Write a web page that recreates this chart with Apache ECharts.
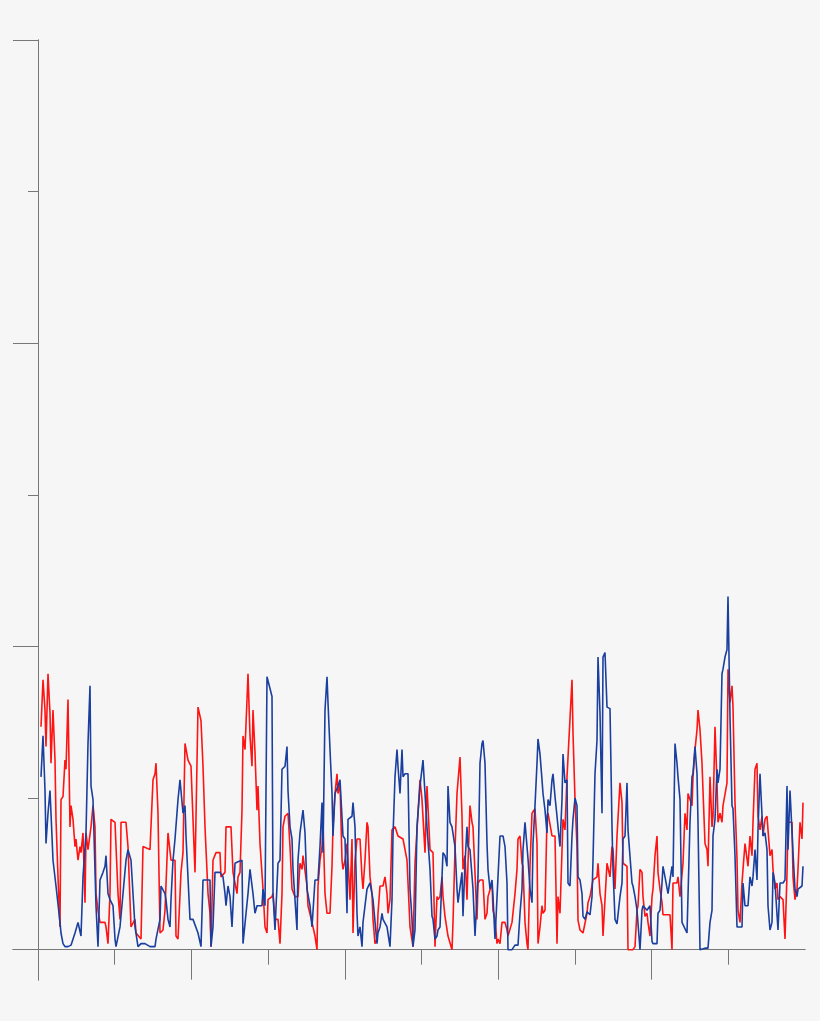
<!DOCTYPE html>
<html><head><meta charset="utf-8">
<script src="https://cdn.jsdelivr.net/npm/echarts@6/dist/echarts.min.js"></script>
<style>html,body{margin:0;padding:0;background:#f6f6f6}#c{width:820px;height:1021px}</style>
</head><body><div id="c"></div>
<script>
const redSeries = [[3,14.7],[5,17.8],[7,15.8],[8,13.4],[10,18.2],[12,15.6],[13,12.3],[15,15.8],[17,12.5],[18,8.6],[20,4.8],[22,1.5],[23,9.9],[25,10.1],[27,12.5],[28,11.9],[30,16.5],[32,8.1],[33,9.5],[35,8.6],[37,6.8],[38,7.3],[40,5.9],[42,6.8],[43,6.4],[45,7.7],[47,3.1],[48,7.7],[50,6.6],[52,6.6],[53,8.1],[55,9.5],[57,8.1],[58,3.7],[60,2.6],[62,1.8],[67,1.8],[68,1.5],[70,0.4],[72,3.7],[73,8.6],[77,8.4],[80,3.7],[82,2.0],[83,8.4],[88,8.4],[90,6.8],[93,1.5],[97,2.0],[98,1.1],[103,0.7],[105,6.8],[112,6.6],[113,6.6],[115,11.2],[117,11.6],[118,12.3],[120,9.0],[122,1.1],[125,1.3],[127,2.6],[130,7.7],[133,5.9],[137,5.9],[138,0.9],[140,0.7],[143,5.1],[145,6.4],[147,13.6],[150,12.5],[153,12.1],[157,5.1],[160,16.0],[163,15.1],[165,12.1],[167,8.1],[170,3.7],[172,2.4],[173,0.2],[175,5.9],[178,6.4],[182,6.4],[183,4.8],[187,5.1],[188,8.1],[193,8.1],[195,5.1],[199,3.7],[200,4.8],[202,5.1],[204,9.2],[205,14.1],[207,13.2],[209,16.5],[210,18.2],[212,14.1],[214,12.1],[215,15.8],[217,13.0],[219,9.2],[220,10.8],[222,7.0],[224,7.0],[225,4.0],[227,1.5],[229,1.1],[230,3.3],[234,3.5],[235,3.7],[237,2.0],[240,2.0],[242,0.4],[244,3.7],[245,8.1],[247,8.8],[250,9.0],[252,6.8],[254,4.0],[257,3.5],[260,3.5],[262,5.7],[264,5.3],[265,6.2],[267,6.2],[269,4.2],[270,2.9],[274,1.8],[277,0.9],[279,0],[280,4.2],[282,5.9],[284,6.8],[285,8.4],[287,3.7],[289,2.4],[292,2.4],[294,5.5],[295,8.1],[297,10.3],[299,11.6],[300,10.3],[302,11.0],[304,5.9],[305,5.3],[307,5.9],[309,7.0],[310,5.9],[312,3.3],[314,7.3],[315,1.1],[317,5.9],[319,7.3],[322,7.3],[324,4.8],[325,4.0],[327,5.9],[329,8.4],[330,8.1],[332,4.8],[334,3.7],[335,2.0],[337,0.4],[339,0.7],[340,2.4],[342,4.2],[345,4.2],[347,4.8],[349,3.7],[350,2.4],[352,3.3],[354,7.9],[355,7.9],[357,8.1],[359,7.7],[360,7.5],[365,7.3],[369,5.9],[372,1.5],[374,1.5],[375,0.2],[377,5.7],[380,9.0],[382,11.2],[384,9.9],[387,6.4],[389,10.8],[392,6.6],[395,6.4],[397,0.2],[399,3.5],[400,3.3],[402,3.5],[404,4.8],[405,3.5],[407,2.2],[410,0.9],[412,0.9],[414,0],[415,1.8],[417,6.6],[419,10.3],[422,12.7],[424,8.8],[425,5.3],[427,6.2],[429,3.3],[430,5.7],[432,9.5],[434,8.4],[435,8.1],[439,2.0],[440,4.4],[442,4.6],[445,4.6],[447,2.0],[449,2.4],[450,3.5],[452,3.5],[454,4.4],[455,2.6],[457,2.0],[459,0.4],[460,0.7],[462,0.4],[464,1.8],[467,1.8],[469,1.3],[470,0.9],[474,1.8],[477,3.7],[479,5.3],[480,7.3],[482,7.5],[484,5.7],[485,5.5],[487,1.8],[489,0.4],[490,0],[492,5.5],[494,9.0],[497,9.3],[499,7.0],[500,0.4],[502,1.5],[504,2.9],[505,2.4],[507,2.6],[509,8.8],[510,9.0],[514,7.5],[517,7.5],[519,0.4],[520,3.5],[522,2.4],[525,8.6],[527,7.9],[529,11.4],[530,11.4],[534,17.8],[535,14.3],[537,9.9],[539,6.8],[540,1.95],[542,1.3],[545,1.1],[547,1.1],[549,2.4],[550,3.1],[552,3.5],[555,4.6],[559,4.8],[560,5.7],[562,3.7],[564,2.9],[565,0.9],[569,5.7],[570,5.7],[572,4.8],[574,6.8],[575,6.6],[577,4.0],[579,7.5],[582,11.0],[584,9.7],[585,5.7],[589,5.5],[590,0],[595,0],[597,0.2],[599,2.6],[600,2.9],[602,5.3],[604,5.1],[605,3.5],[607,2.2],[609,2.4],[610,1.8],[612,0.9],[614,3.5],[615,4.0],[617,6.2],[619,7.5],[620,5.1],[622,4.0],[624,3.1],[625,2.3],[632,2.3],[634,0],[635,4.4],[639,4.4],[640,4.8],[642,3.5],[644,3.5],[645,5.7],[647,9.0],[649,7.9],[650,10.3],[652,10.3],[654,9.5],[655,11.4],[657,13.2],[659,14.5],[660,15.8],[662,14.5],[664,12.3],[665,10.5],[667,7.0],[669,6.6],[670,5.5],[672,11.4],[674,8.1],[675,8.8],[677,14.7],[679,11.0],[680,8.4],[682,9.0],[684,8.4],[685,9.5],[687,9.5],[689,11.0],[690,18.5],[692,16.3],[694,17.4],[695,16.0],[697,9.7],[699,6.0],[700,2.6],[702,1.8],[704,4.4],[705,5.3],[707,7.0],[709,7.0],[710,5.5],[712,7.5],[714,6.2],[715,8.4],[717,11.9],[719,12.3],[720,8.8],[722,7.9],[724,8.8],[725,7.5],[727,8.6],[729,8.8],[730,7.9],[732,6.2],[734,6.6],[735,5.3],[737,4.0],[739,4.4],[740,3.3],[742,3.5],[745,3.3],[747,0.7],[749,5.0],[750,8.4],[754,8.4],[755,4.8],[757,3.3],[759,4.0],[760,5.3],[762,8.4],[764,7.3],[765,9.7]];
const blueSeries = [[3,11.4],[5,14.1],[7,10.5],[8,7.0],[10,9.0],[12,10.5],[13,9.0],[15,5.9],[17,5.9],[18,4.2],[22,1.8],[23,1.1],[25,0.4],[27,0.2],[30,0.2],[33,0.3],[37,1.1],[40,1.8],[42,1.8],[43,0.9],[45,4.8],[48,7.7],[50,13.6],[52,17.4],[53,10.8],[55,9.9],[57,9.9],[58,2.9],[60,0.2],[62,4.6],[65,5.1],[67,5.5],[68,6.2],[70,3.7],[72,3.3],[75,2.9],[77,0.7],[78,0.2],[82,1.5],[85,3.7],[88,5.9],[90,6.6],[93,5.9],[95,5.9],[97,1.5],[100,0.2],[103,0.4],[107,0.4],[108,0.5],[112,0.2],[117,0.2],[118,0.7],[122,2.0],[123,4.2],[127,3.7],[128,3.3],[130,2.0],[132,1.5],[133,3.3],[135,5.9],[137,7.3],[138,7.3],[140,9.9],[142,11.2],[145,9.0],[147,9.5],[148,7.5],[152,2.0],[155,2.0],[160,1.1],[163,0.2],[165,4.6],[172,4.6],[173,0.2],[175,1.5],[177,5.1],[182,5.1],[185,4.8],[187,3.7],[188,2.9],[190,4.2],[192,3.5],[194,1.5],[195,1.5],[197,5.7],[200,5.8],[202,5.9],[204,5.9],[205,0.4],[207,0.4],[210,3.7],[212,5.3],[214,5.3],[215,3.7],[217,2.4],[219,2.9],[224,2.9],[225,4.0],[227,2.9],[229,18.0],[231,18.0],[234,16.7],[235,3.7],[237,1.3],[239,1.3],[240,5.7],[242,5.9],[244,11.9],[247,12.1],[249,13.4],[250,10.5],[252,8.1],[254,7.3],[255,5.3],[257,3.3],[259,1.3],[260,5.9],[262,7.7],[265,9.2],[267,7.7],[269,4.0],[272,2.9],[274,1.5],[277,4.6],[280,4.6],[282,6.8],[284,9.7],[285,6.4],[287,15.8],[289,18.0],[290,16.3],[292,13.2],[294,10.3],[295,7.5],[297,10.3],[300,10.8],[302,11.2],[305,7.5],[307,7.3],[309,2.4],[310,8.6],[314,8.8],[315,9.7],[317,8.1],[319,2.4],[320,0.9],[322,1.5],[324,0.2],[325,1.8],[329,4.0],[332,4.4],[335,3.3],[339,0.4],[340,1.1],[342,1.5],[344,2.4],[345,2.0],[349,1.5],[352,0.2],[354,3.3],[355,7.5],[357,11.4],[359,13.2],[360,12.1],[362,10.3],[364,13.2],[365,11.4],[367,11.6],[370,11.6],[372,4.0],[374,2.0],[375,0.2],[377,1.3],[379,8.1],[382,10.8],[385,12.5],[389,8.1],[392,5.3],[394,2.2],[395,2.0],[397,0.7],[399,0.9],[400,1.3],[402,1.5],[404,4.8],[405,6.4],[407,6.2],[409,5.5],[410,10.8],[412,8.4],[414,8.1],[415,8.1],[417,6.8],[419,4.0],[420,3.1],[422,3.1],[424,5.1],[425,2.2],[427,5.7],[429,8.1],[430,6.8],[432,6.6],[434,6.6],[435,4.0],[437,0.9],[439,0.9],[440,4.8],[442,12.3],[444,13.6],[445,13.8],[447,12.3],[449,7.0],[450,5.3],[452,4.0],[454,4.6],[455,3.5],[457,0.7],[459,0.7],[460,4.8],[462,7.5],[465,7.5],[467,6.8],[469,4.4],[470,0],[474,0],[477,0.3],[480,0.3],[482,2.4],[484,4.0],[485,6.6],[487,8.4],[489,8.5],[490,6.0],[492,4.0],[494,3.1],[495,7.0],[497,9.5],[499,12.3],[500,13.9],[502,12.9],[504,11.2],[505,10.3],[507,9.2],[509,7.7],[510,9.9],[512,9.5],[514,11.2],[515,11.6],[517,10.1],[519,8.8],[520,8.1],[522,6.8],[524,9.9],[525,12.9],[527,11.0],[529,11.2],[530,4.4],[532,4.2],[534,7.5],[535,8.6],[537,10.0],[539,9.5],[540,4.8],[542,4.6],[544,3.7],[545,2.2],[547,2.0],[549,2.5],[550,2.6],[552,2.3],[554,3.5],[555,5.9],[557,11.6],[559,13.8],[560,19.3],[562,15.6],[564,9.0],[565,19.3],[567,19.6],[569,16.0],[572,15.9],[574,8.1],[575,5.3],[577,2.0],[579,1.7],[582,3.5],[584,4.4],[585,7.3],[587,7.5],[589,11.0],[590,7.9],[592,7.9],[594,4.4],[595,4.2],[597,3.5],[599,2.6],[600,2.6],[602,0],[604,2.6],[605,2.9],[607,2.9],[609,2.6],[612,2.9],[614,0.55],[615,0.4],[619,0.4],[620,2.4],[622,2.6],[624,4.4],[625,5.5],[627,4.8],[629,4.8],[630,3.7],[632,4.6],[634,5.5],[635,4.8],[637,13.6],[639,12.3],[640,11.4],[642,9.9],[644,1.8],[645,1.8],[649,1.1],[652,8.4],[654,11.4],[655,11.6],[657,13.4],[659,11.6],[660,8.4],[662,0],[664,0],[667,0.1],[670,0.1],[672,1.8],[674,2.6],[675,7.5],[677,8.6],[679,11.9],[680,11.0],[682,11.9],[684,18.2],[685,18.5],[687,19.3],[689,19.8],[690,23.3],[692,15.4],[694,9.5],[695,9.3],[697,6.2],[699,1.5],[704,1.5],[705,4.4],[707,2.9],[710,2.9],[712,4.8],[714,4.2],[715,4.8],[717,6.6],[719,4.6],[720,7.9],[722,11.6],[724,11.6],[725,7.5],[727,7.7],[729,6.6],[730,2.9],[732,1.3],[734,1.8],[735,5.1],[737,4.4],[740,1.3],[742,4.4],[745,4.4],[747,4.6],[749,10.8],[750,6.6],[752,10.5],[754,10.5],[755,6.4],[757,4.0],[759,3.5],[760,4.0],[764,4.2],[765,5.5]];
const xMajorTicks = [0,153.4,306.8,460.2,613.6];
const xMinorTicks = [76.7,230.1,383.5,536.9,690.3];
const yMajorTicks = [0,20,40,60];
const yMinorTicks = [10,30,50];

const axisColor = '#777';
const baseX = (ticks, len) => ({
  type:'value', min:-25, max:767, position:'bottom',
  axisLine:{show:true, onZero:true, lineStyle:{color:axisColor, width:1}},
  axisTick:{show:true, length:len, customValues:ticks, lineStyle:{color:axisColor}},
  axisLabel:{show:false}, splitLine:{show:false}
});
const baseY = (ticks, len) => ({
  type:'value', min:-2, max:60, position:'left',
  axisLine:{show:true, onZero:true, lineStyle:{color:axisColor, width:1}},
  axisTick:{show:true, length:len, customValues:ticks, lineStyle:{color:axisColor}},
  axisLabel:{show:false}, splitLine:{show:false}
});
const chart = echarts.init(document.getElementById('c'));
chart.setOption({
  backgroundColor:'#f6f6f6',
  animation:false,
  grid:{left:13, right:15, top:40, bottom:41},
  xAxis:[baseX(xMajorTicks,30), baseX(xMinorTicks,15)],
  yAxis:[baseY(yMajorTicks,25), baseY(yMinorTicks,10)],
  series:[
    {type:'line', data:redSeries, showSymbol:false, lineStyle:{color:'#ff1414', width:1.6}, itemStyle:{color:'#ff1414'}},
    {type:'line', data:blueSeries, showSymbol:false, lineStyle:{color:'#1a3f9e', width:1.6}, itemStyle:{color:'#1a3f9e'}}
  ]
});
</script></body></html>
